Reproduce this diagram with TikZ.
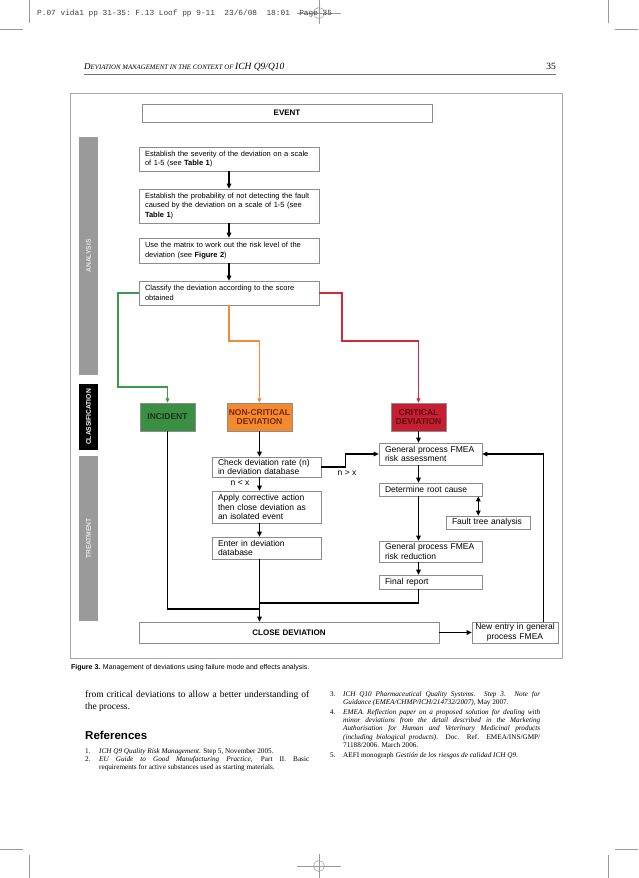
\documentclass[tikz,border=0pt]{standalone}
\usepackage{fontspec}
\setmainfont{Liberation Serif}
\setsansfont{Liberation Sans}
\setmonofont{Liberation Mono}
\usetikzlibrary{arrows.meta,calc}
\definecolor{boxgray}{HTML}{8C8C8C}
\definecolor{framegray}{HTML}{A8A8A8}
\definecolor{bargray}{HTML}{9A9A9A}
\definecolor{bartext}{HTML}{E4E4E4}
\definecolor{incfill}{HTML}{3B8F43}
\definecolor{inctext}{HTML}{17331A}
\definecolor{ncfill}{HTML}{F28A2E}
\definecolor{nctext}{HTML}{7A2612}
\definecolor{crfill}{HTML}{C61F32}
\definecolor{crtext}{HTML}{5A0C14}
\definecolor{gline}{HTML}{3B9A4A}
\definecolor{oline}{HTML}{F08C33}
\definecolor{rline}{HTML}{D02A38}
\definecolor{markgray}{HTML}{9A9A9A}
\tikzset{
  abox/.style={draw=boxgray, line width=0.6pt, fill=white, align=left, inner xsep=6pt, inner ysep=1pt,
    font=\sffamily\fontsize{7.5}{9.8}\selectfont},
  tbox/.style={draw=boxgray, line width=0.6pt, fill=white, align=left, inner xsep=6pt, inner ysep=1pt,
    font=\sffamily\fontsize{8.5}{9.6}\selectfont},
  cbox/.style={draw=black!45, line width=0.5pt, align=center, inner sep=1pt, minimum width=55pt, minimum height=28pt,
    font=\sffamily\bfseries\fontsize{8.5}{9.6}\selectfont},
  sidebar/.style={rotate=90, inner sep=0pt, minimum height=19pt, font=\sffamily\bfseries\fontsize{6.7}{7}\selectfont},
  conn/.style={line width=1.5pt, -{Triangle[length=5pt,width=4.5pt]}},
  conntwo/.style={line width=1.5pt, {Triangle[length=5pt,width=4.5pt]}-{Triangle[length=5pt,width=4.5pt]}},
  plainline/.style={line width=1.5pt},
  colconn/.style={line width=1.7pt, -{Triangle[length=4.5pt,width=4pt]}},
  lbl/.style={inner sep=0pt, font=\sffamily\fontsize{8.5}{9}\selectfont},
  cropline/.style={draw=markgray, line width=0.5pt},
  txt/.style={anchor=base west, inner sep=0pt},
  reffont/.style={font=\rmfamily\fontsize{7.2}{8.4}\selectfont}
}
\begin{document}
\begin{tikzpicture}[x=1pt,y=-1pt]
\useasboundingbox (0,0) rectangle (638,878);
\fill[white] (0,0) rectangle (638,878);

% crop and registration marks
\draw[cropline] (29,0) -- (29,23);
\draw[cropline] (0,29) -- (23,29);
\draw[cropline] (608,0) -- (608,23);
\draw[cropline] (615,29) -- (638,29);
\draw[cropline] (319,13) circle (5.5);
\draw[cropline] (297,13) -- (341,13);
\draw[cropline] (319,0) -- (319,24);
\draw[cropline] (29,855) -- (29,878);
\draw[cropline] (0,849) -- (23,849);
\draw[cropline] (608,855) -- (608,878);
\draw[cropline] (615,849) -- (638,849);
\draw[cropline] (319,866) circle (5.5);
\draw[cropline] (297,866) -- (341,866);
\draw[cropline] (319,854) -- (319,878);

% slug line
\node[txt, font=\ttfamily\fontsize{7.8}{8}\selectfont, text=black!75] (slug) at (37,15)
  {P.07 vida1 pp 31-35: F.13 Loof pp 9-11\ \ 23/6/08\ \ 18:01\ \ Page 35};

% running header
\node[txt, font=\rmfamily\itshape] (rhead) at (84,69)
  {{\fontsize{9}{9}\selectfont D}{\fontsize{6.8}{9}\selectfont EVIATION MANAGEMENT IN THE CONTEXT OF }{\fontsize{9.5}{9}\selectfont ICH Q9/Q10}};
\node[txt, anchor=base east, font=\rmfamily\fontsize{9.5}{9}\selectfont] (pnum) at (556,69) {35};
\draw[draw=black!55, line width=0.6pt] (84,74.5) -- (556,74.5);

% frame
\draw[draw=framegray, line width=0.8pt] (70,93) rectangle (562,658);

% side bars
\node[sidebar, fill=bargray, text=bartext, minimum width=238pt] (ana) at (88.5,256) {ANALYSIS};
\node[sidebar, fill=black, text=white, minimum width=66pt] (cla) at (88.5,417) {CLASSIFICATION};
\node[sidebar, fill=bargray, text=bartext, minimum width=165pt] (tre) at (88.5,538.5) {TREATMENT};

% analysis boxes
\node[abox, minimum height=18pt, text width=278pt, align=center, font=\sffamily\bfseries\fontsize{8}{9}\selectfont] (event) at (287,113) {EVENT};
\node[abox, minimum height=24pt, text width=168pt] (b1) at (229,159)
  {Establish the severity of the deviation on a scale\\of 1-5 (see \textbf{Table 1})};
\node[abox, minimum height=34pt, text width=168pt] (b2) at (229,206)
  {Establish the probability of not detecting the fault\\caused by the deviation on a scale of 1-5 (see\\\textbf{Table 1})};
\node[abox, minimum height=25pt, text width=168pt] (b3) at (229,250.5)
  {Use the matrix to work out the risk level of the\\deviation (see \textbf{Figure 2})};
\node[abox, minimum height=24pt, text width=168pt] (b4) at (229,293)
  {Classify the deviation according to the score\\obtained};

% classification boxes
\node[cbox, fill=incfill, text=inctext] (inc) at (167.5,417) {INCIDENT};
\node[cbox, fill=ncfill, text=nctext, minimum width=65pt] (nc) at (259.5,417) {NON-CRITICAL\\DEVIATION};
\node[cbox, fill=crfill, text=crtext] (cr) at (418.5,417) {CRITICAL\\DEVIATION};

% treatment boxes
\node[tbox, minimum height=20pt, text width=97pt] (chk) at (266.5,467) {Check deviation rate (n)\\in deviation database};
\node[tbox, minimum height=32pt, text width=97pt] (app) at (266.5,507) {Apply corrective action\\then close deviation as\\an isolated event};
\node[tbox, minimum height=22pt, text width=97pt] (ent) at (266.5,548) {Enter in deviation\\database};
\node[tbox, minimum height=22pt, text width=91pt] (gpa) at (430.5,454) {General process FMEA\\risk assessment};
\node[tbox, minimum height=13pt, text width=91pt] (drc) at (430.5,489.5) {Determine root cause};
\node[tbox, minimum height=13pt, text width=72pt] (fta) at (488,522.5) {Fault tree analysis};
\node[tbox, minimum height=21pt, text width=91pt] (gpr) at (430.5,551.5) {General process FMEA\\risk reduction};
\node[tbox, minimum height=14pt, text width=91pt] (fin) at (430.5,582) {Final report};
\node[tbox, minimum height=21pt, text width=288pt, align=center, font=\sffamily\bfseries\fontsize{8}{9}\selectfont] (close) at (289,632.5) {CLOSE DEVIATION};
\node[tbox, minimum height=21pt, text width=82pt, inner xsep=2pt, align=center] (new) at (515,632.5) {New entry in general\\process FMEA};

% analysis connectors
\draw[conn] (b1) -- (b2);
\draw[conn] (b2) -- (b3);
\draw[conn] (b3) -- (b4);

% classification connectors
\draw[colconn, color=gline] (b4.west) -- ++(-21,0) |- ([yshift=16pt]inc.north) -- (inc.north);
\draw[colconn, color=oline] (b4.south) |- ([yshift=62pt]nc.north) -- (nc.north);
\draw[colconn, color=rline] (b4.east) -- ++(23,0) |- ([yshift=62pt]cr.north) -- (cr.north);

% treatment connectors
\coordinate (jinc) at (259.5,609);
\coordinate (jfin) at (259.5,603);
\draw[plainline] (inc.south) |- (jinc);
\draw[conn] (nc.south) -- (chk.north -| nc.south);
\draw[conn] (chk.south -| nc.south) -- (app.north -| nc.south);
\draw[conn] (app.south -| nc.south) -- (ent.north -| nc.south);
\draw[conn] (ent.south -| nc.south) -- (close.north -| nc.south);
\node[lbl] (nlx) at (240,483) {n < x};
\draw[conn] (chk.east) -- ++(24,0) |- (gpa.west);
\node[lbl] (ngx) at (347,473) {n > x};
\draw[conn] (cr.south) -- (gpa.north -| cr.south);
\draw[conn] (gpa.south -| cr.south) -- (drc.north -| cr.south);
\draw[conn] (drc.south -| cr.south) -- (gpr.north -| cr.south);
\draw[conn] (gpr.south -| cr.south) -- (fin.north -| cr.south);
\draw[plainline] (fin.south -| cr.south) |- (jfin);
\coordinate (ft1) at ([xshift=-4pt]drc.south east);
\draw[conntwo] (ft1) -- (ft1 |- fta.north);
\draw[conn] (close.east) -- (new.west);
\coordinate (nwup) at ([xshift=-15pt]new.north east);
\draw[conn] (nwup) |- (gpa.east);

% caption
\node[txt, font=\sffamily\fontsize{7}{8}\selectfont] (cap) at (71,669.5)
  {\textbf{Figure 3.} Management of deviations using failure mode and effects analysis.};

% body text
\node[txt, text width=224pt, align=justify, font=\rmfamily\fontsize{9.5}{12}\selectfont] (body) at (85,697.5)
  {from critical deviations to allow a better understanding of\linebreak the process.};
\node[txt, font=\sffamily\bfseries\fontsize{11.5}{12}\selectfont] (refh) at (85,739.5) {References};

\node[txt, reffont] (n1) at (85,753) {1.};
\node[txt, reffont, text width=210pt, align=justify] (r1) at (99,753)
  {\textit{ICH Q9 Quality Risk Management}. Step 5, November 2005.};
\node[txt, reffont] (n2) at (85,761.4) {2.};
\node[txt, reffont, text width=210pt, align=justify] (r2) at (99,761.4)
  {\textit{EU Guide to Good Manufacturing Practice}, Part II. Basic\linebreak requirements for active substances used as starting materials.};

\node[txt, reffont] (n3) at (330,696) {3.};
\node[txt, reffont, text width=197pt, align=justify] (r3) at (343,696)
  {\textit{ICH Q10 Pharmaceutical Quality Systems. Step 3. Note for\linebreak Guidance (EMEA/CHMP/ICH/214732/2007)}, May 2007.};
\node[txt, reffont] (n4) at (330,714) {4.};
\node[txt, reffont, text width=197pt, align=justify] (r4) at (343,714)
  {\textit{EMEA. Reflection paper on a proposed solution for dealing with\linebreak minor deviations from the detail described in the Marketing\linebreak Authorisation for Human and Veterinary Medicinal products\linebreak (including biological products)}. Doc. Ref. EMEA/INS/GMP/\linebreak 71188/2006. March 2006.};
\node[txt, reffont] (n5) at (330,757.5) {5.};
\node[txt, reffont, text width=197pt, align=justify] (r5) at (343,757.5)
  {AEFI monograph \textit{Gestión de los riesgos de calidad ICH Q9}.};
\end{tikzpicture}
\end{document}
